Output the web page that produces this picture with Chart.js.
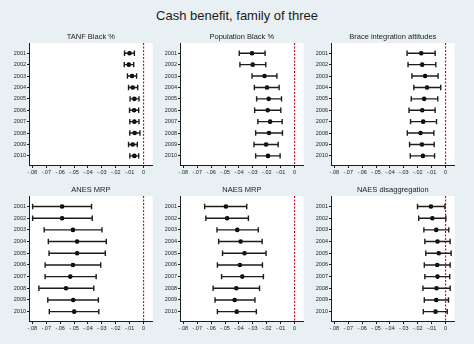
<!DOCTYPE html>
<html>
<head>
<meta charset="utf-8">
<script src="https://cdn.jsdelivr.net/npm/chart.js@4/dist/chart.umd.min.js"></script>
<style>
  html, body { margin: 0; padding: 0; background: #e9f0f4; }
  #page { position: relative; width: 474px; height: 344px; overflow: hidden; }
  #title { position: absolute; left: 0; top: 8px; width: 474px; text-align: center;
           font-family: "Liberation Sans", Arial, sans-serif; font-size: 13px; color: #1a1a1a; }
  canvas { position: absolute; }
</style>
</head>
<body>
<div id="page">
  <div id="title">Cash benefit, family of three</div>
</div>
<script>
// years on the y axis
const years = [2001, 2002, 2003, 2004, 2005, 2006, 2007, 2008, 2009, 2010];
const xTicks = [-0.08, -0.07, -0.06, -0.05, -0.04, -0.03, -0.02, -0.01, 0];

// TANF Black %
const tanfEst = [-0.0101, -0.0106, -0.0083, -0.0078, -0.0066, -0.0068, -0.0066, -0.0064, -0.0078, -0.0066];
const tanfLo  = [-0.0137, -0.0139, -0.0116, -0.0108, -0.0097, -0.0101, -0.0099, -0.0099, -0.0108, -0.0099];
const tanfHi  = [-0.0066, -0.0071, -0.0050, -0.0042, -0.0033, -0.0035, -0.0033, -0.0026, -0.0045, -0.0035];

// Population Black %
const popEst = [-0.0306, -0.0301, -0.0216, -0.0198, -0.0186, -0.0193, -0.0176, -0.0184, -0.0205, -0.0191];
const popLo  = [-0.0398, -0.0393, -0.0306, -0.0289, -0.0273, -0.0287, -0.0264, -0.0280, -0.0292, -0.0280];
const popHi  = [-0.0212, -0.0207, -0.0127, -0.0111, -0.0094, -0.0099, -0.0089, -0.0087, -0.0118, -0.0104];

// Brace integration attitudes
const braceEst = [-0.0175, -0.0168, -0.0147, -0.0133, -0.0154, -0.0168, -0.0161, -0.0180, -0.0170, -0.0163];
const braceLo  = [-0.0277, -0.0270, -0.0242, -0.0228, -0.0247, -0.0263, -0.0252, -0.0275, -0.0259, -0.0254];
const braceHi  = [-0.0075, -0.0070, -0.0054, -0.0035, -0.0056, -0.0075, -0.0065, -0.0084, -0.0082, -0.0079];

// ANES MRP
const anesEst = [-0.0586, -0.0586, -0.0508, -0.0478, -0.0478, -0.0508, -0.0527, -0.0558, -0.0506, -0.0499];
const anesLo  = [-0.0798, -0.0798, -0.0715, -0.0685, -0.0680, -0.0708, -0.0708, -0.0753, -0.0689, -0.0678];
const anesHi  = [-0.0374, -0.0369, -0.0299, -0.0268, -0.0275, -0.0308, -0.0341, -0.0358, -0.0325, -0.0322];

// NAES MRP
const naesEst = [-0.0494, -0.0485, -0.0412, -0.0388, -0.0360, -0.0393, -0.0376, -0.0419, -0.0431, -0.0416];
const naesLo  = [-0.0647, -0.0638, -0.0558, -0.0546, -0.0518, -0.0555, -0.0525, -0.0586, -0.0572, -0.0555];
const naesHi  = [-0.0344, -0.0332, -0.0261, -0.0233, -0.0205, -0.0231, -0.0224, -0.0252, -0.0285, -0.0275];

// NAES disaggregation
const disEst = [-0.0105, -0.0095, -0.0067, -0.0058, -0.0049, -0.0060, -0.0058, -0.0065, -0.0067, -0.0072];
const disLo  = [-0.0202, -0.0193, -0.0156, -0.0149, -0.0142, -0.0153, -0.0149, -0.0163, -0.0153, -0.0160];
const disHi  = [-0.0005,  0.0002,  0.0023,  0.0033,  0.0040,  0.0033,  0.0030,  0.0033,  0.0021,  0.0012];

const panelTitles = ['TANF Black %', 'Population Black %', 'Brace integration attitudes',
                     'ANES MRP', 'NAES MRP', 'NAES disaggregation'];
const panels = [
  [tanfEst, tanfLo, tanfHi], [popEst, popLo, popHi], [braceEst, braceLo, braceHi],
  [anesEst, anesLo, anesHi], [naesEst, naesLo, naesHi], [disEst, disLo, disHi]
];

// layout (pixels)
const colAxisX = [29, 180, 331];
const rowTop = [43, 196];
const plotH = [122, 125];
const yAxisW = 29, xAxisH = 14, titleH = 14, plotW = 126;

const font = '"Liberation Sans", Arial, sans-serif';
const ink = '#1c1c1c';

const plotBg = {
  id: 'plotBg',
  beforeDraw(chart) {
    const a = chart.chartArea, ctx = chart.ctx;
    ctx.save();
    ctx.fillStyle = '#ffffff';
    ctx.fillRect(a.left, a.top, a.right - a.left, a.bottom - a.top);
    ctx.restore();
  }
};

const zeroLine = {
  id: 'zeroLine',
  beforeDatasetsDraw(chart) {
    const a = chart.chartArea, ctx = chart.ctx;
    const x = chart.scales.x.getPixelForValue(0);
    ctx.save();
    ctx.strokeStyle = '#c8102e';
    ctx.lineWidth = 1.2;
    ctx.setLineDash([2, 1.5]);
    ctx.beginPath();
    ctx.moveTo(x, a.top);
    ctx.lineTo(x, a.bottom);
    ctx.stroke();
    ctx.restore();
  }
};

function tickLabel(v) {
  if (v === 0) return '0';
  return v.toFixed(2).replace('0.', '.');
}

function makePanel(i) {
  const col = i % 3, row = Math.floor(i / 3);
  const [est, lo, hi] = panels[i];
  const canvas = document.createElement('canvas');
  const w = yAxisW + plotW + 3;
  const h = titleH + plotH[row] + xAxisH;
  canvas.width = w; canvas.height = h;
  canvas.style.left = (colAxisX[col] - yAxisW) + 'px';
  canvas.style.top = (rowTop[row] - titleH) + 'px';
  document.getElementById('page').appendChild(canvas);

  const whiskers = [];
  years.forEach((y, k) => {
    whiskers.push({x: lo[k], y: y}, {x: hi[k], y: y}, {x: null, y: null});
  });
  const points = years.map((y, k) => ({x: est[k], y: y}));

  new Chart(canvas.getContext('2d'), {
    type: 'scatter',
    data: {
      datasets: [{
        data: whiskers,
        showLine: true,
        spanGaps: false,
        borderColor: ink,
        borderWidth: 1.4,
        pointStyle: 'line',
        rotation: 90,
        pointRadius: 2.7,
        pointBorderWidth: 1.4,
        pointBorderColor: ink
      }, {
        data: points,
        pointStyle: 'circle',
        pointRadius: 2.3,
        pointBackgroundColor: '#000',
        pointBorderColor: '#000',
        pointBorderWidth: 0
      }]
    },
    options: {
      responsive: false,
      animation: false,
      layout: { padding: { left: 0, right: 3, top: 0, bottom: 0 } },
      plugins: {
        legend: { display: false },
        tooltip: { enabled: false },
        title: {
          display: true,
          text: panelTitles[i],
          fullSize: false,
          color: ink,
          font: { family: font, size: 7.5, weight: 'normal', lineHeight: 1.2 },
          padding: { top: 3, bottom: 2 }
        }
      },
      scales: {
        x: {
          type: 'linear',
          min: -0.0824,
          max: 0.0065,
          afterBuildTicks: s => { s.ticks = xTicks.map(v => ({value: v})); },
          afterFit: s => { s.height = xAxisH; },
          grid: { drawOnChartArea: false, drawTicks: true, tickLength: 3, color: ink },
          border: { display: true, color: ink, width: 1 },
          ticks: { callback: tickLabel, color: ink, padding: 1, maxRotation: 0,
                   autoSkip: false, font: { family: font, size: 5.5 } }
        },
        y: {
          type: 'linear',
          reverse: true,
          min: 2000.1,
          max: 2010.8,
          afterBuildTicks: s => { s.ticks = years.map(v => ({value: v})); },
          afterFit: s => { s.width = yAxisW; },
          grid: { drawOnChartArea: false, drawTicks: true, tickLength: 2, color: ink },
          border: { display: true, color: ink, width: 1 },
          ticks: { callback: v => String(v), color: ink, padding: 1,
                   autoSkip: false, font: { family: font, size: 5.5 } }
        }
      }
    },
    plugins: [plotBg, zeroLine]
  });
}

for (let i = 0; i < 6; i++) makePanel(i);
</script>
</body>
</html>
